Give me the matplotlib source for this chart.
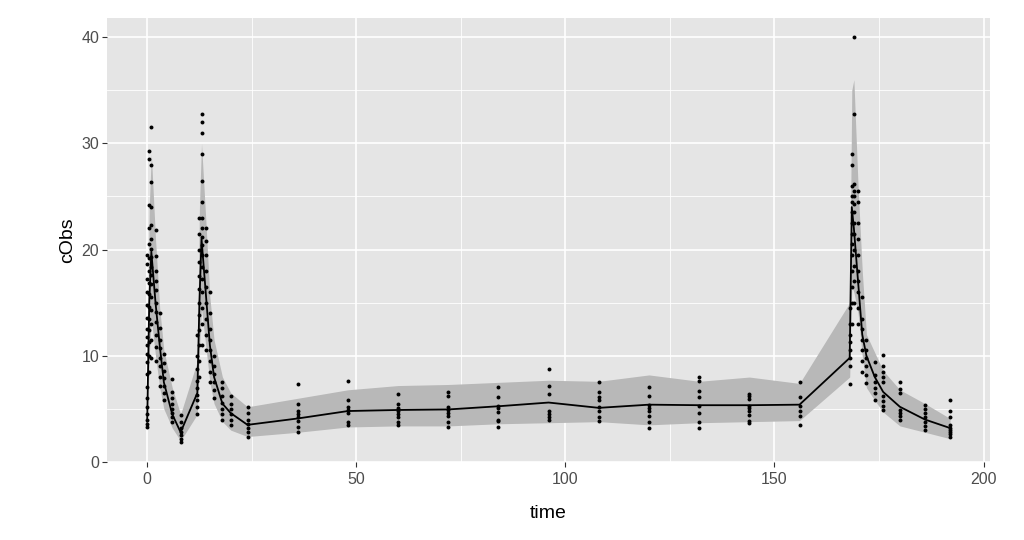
import numpy as np
import matplotlib
matplotlib.use('Agg')
import matplotlib.pyplot as plt

plt.rcParams['font.family'] = ['Liberation Sans', 'DejaVu Sans']

# observed concentrations per sampling time
obs = {
    0: [3.3, 3.6, 4.0, 4.5, 5.2, 6.0, 7.1, 8.3, 9.4, 10.2, 11.0, 11.8, 12.5, 13.6, 14.8, 16.0, 17.2, 18.6, 19.5],
    0.5: [8.5, 10.0, 11.3, 12.4, 13.5, 14.6, 15.8, 16.9, 18.0, 19.2, 20.5, 22.0, 24.2, 28.5, 29.3],
    1: [9.8, 11.5, 13.0, 14.3, 15.5, 16.8, 17.6, 18.4, 19.3, 20.1, 21.0, 22.3, 24.0, 26.4, 28.0, 31.5],
    2: [9.5, 10.8, 12.0, 13.2, 14.1, 15.0, 16.2, 17.0, 18.0, 19.4, 21.8],
    3: [7.2, 8.0, 9.0, 9.8, 10.7, 11.5, 12.6, 14.0],
    4: [5.8, 6.5, 7.2, 7.9, 8.6, 9.3, 10.2],
    6: [3.8, 4.2, 4.6, 5.0, 5.5, 6.0, 6.6, 7.8],
    8: [1.9, 2.2, 2.5, 2.8, 3.2, 3.8, 4.4],
    12: [4.5, 5.2, 5.8, 6.3, 7.0, 7.6, 8.8, 10.0, 12.0],
    12.5: [8.0, 9.5, 11.0, 12.4, 13.8, 15.0, 16.3, 17.5, 18.8, 20.0, 21.5, 23.0],
    13: [11.0, 13.0, 14.5, 16.0, 17.2, 18.4, 19.5, 20.4, 21.2, 22.0, 23.0, 24.5, 26.5, 29.0, 31.0, 32.0, 32.8],
    14: [10.5, 12.0, 13.5, 15.0, 16.5, 18.0, 19.5, 20.8, 22.0],
    15: [7.5, 8.5, 9.5, 10.5, 11.5, 12.5, 14.0, 16.0],
    16: [6.0, 6.8, 7.5, 8.3, 9.0, 10.0],
    18: [4.0, 4.5, 5.0, 5.6, 6.2, 7.0, 7.5],
    20: [3.5, 4.0, 4.5, 5.0, 5.5, 6.2],
    24: [2.4, 2.8, 3.2, 3.6, 4.0, 4.6, 5.2],
    36: [2.8, 3.3, 3.9, 4.2, 4.5, 4.8, 5.5, 7.3],
    48: [3.5, 3.8, 4.6, 4.9, 5.2, 5.8, 7.6],
    60: [3.5, 3.8, 4.2, 4.5, 4.8, 5.1, 5.5, 6.4],
    72: [3.3, 3.8, 4.3, 4.6, 4.9, 5.2, 6.2, 6.6],
    84: [3.3, 3.9, 4.0, 4.7, 5.1, 5.3, 6.1, 7.1],
    96: [4.0, 4.2, 4.5, 4.8, 6.4, 7.2, 8.8],
    108: [3.9, 4.2, 4.8, 5.2, 5.8, 6.1, 6.6, 7.5],
    120: [3.2, 3.8, 4.3, 4.8, 5.1, 5.4, 6.2, 7.1],
    132: [3.2, 3.8, 4.6, 5.3, 6.1, 6.7, 7.6, 8.0],
    144: [3.7, 3.9, 4.4, 4.8, 5.1, 5.3, 5.9, 6.2, 6.4],
    156: [3.5, 4.3, 4.8, 5.3, 6.1, 7.5],
    168: [7.3, 9.0, 9.8, 10.5, 11.3, 12.0, 13.0, 14.5],
    168.5: [13, 15, 16.5, 18, 19.5, 20.5, 21.5, 22.5, 23.5, 24.5, 25.0, 26.0, 28.0, 29.0],
    169: [15, 17, 18.5, 20, 21.5, 22.5, 23.5, 24.3, 25.0, 25.5, 26.2, 32.8, 40.0],
    170: [13, 14.5, 16, 17, 18, 19.5, 21, 22.5, 24.5, 25.5],
    171: [8.5, 9.5, 10.5, 11.5, 12.5, 13.5, 15.5],
    172: [7.4, 8.2, 9.0, 9.8, 10.5, 11.5],
    174: [5.8, 6.5, 7.0, 7.5, 8.2, 9.4],
    176: [4.9, 5.3, 5.7, 6.2, 7.5, 8.0, 8.5, 9.0, 10.1],
    180: [4.0, 4.3, 4.6, 4.9, 6.5, 6.9, 7.5],
    186: [3.0, 3.4, 3.8, 4.2, 4.6, 5.0, 5.4],
    192: [2.4, 2.6, 2.8, 3.0, 3.2, 3.5, 4.2, 4.8, 5.8],
}

# summary: median and interval
times = [0, 0.5, 1, 2, 3, 4, 6, 8, 12, 12.5, 13, 14, 15, 16, 18, 20, 24,
         36, 48, 60, 72, 84, 96, 108, 120, 132, 144, 156,
         168, 168.5, 169, 170, 171, 172, 174, 176, 180, 186, 192]
med = [3.8, 15, 19.8, 15, 11, 7.5, 4.5, 2.8, 6.5, 15, 21, 16, 11, 8, 5.5, 4.6, 3.5,
       4.1, 4.8, 4.9, 4.95, 5.25, 5.6, 5.1, 5.4, 5.35, 5.35, 5.4,
       9.8, 24, 22, 17, 12, 10, 8, 6.6, 5.2, 4.0, 3.2]
lo = [3.0, 10, 13.5, 10, 7, 5, 3.2, 2.0, 4.5, 10.5, 14.5, 11, 7.5, 5.5, 3.8, 3.0, 2.4,
      2.8, 3.3, 3.4, 3.4, 3.6, 3.7, 3.8, 3.5, 3.7, 3.8, 3.9,
      8.0, 16.5, 16, 14, 10, 7, 5.8, 4.7, 3.4, 2.8, 2.2]
hi = [7, 24, 29, 21, 14.5, 10.5, 7, 4.5, 9.5, 24, 30, 23, 15.5, 11.5, 8, 6.5, 5.2,
      6.0, 6.8, 7.2, 7.3, 7.5, 7.7, 7.6, 8.2, 7.6, 8.0, 7.4,
      15.0, 35, 36, 26, 18, 12, 10.3, 8.6, 6.8, 5.5, 4.1]

fig = plt.figure(figsize=(10.24, 5.4), dpi=100)
ax = fig.add_axes([0.1045, 0.1444, 0.8625, 0.8222])
ax.set_facecolor('#E5E5E5')

ax.fill_between(times, lo, hi, color='#B8B8B8', lw=0, zorder=2)
ax.plot(times, med, color='black', lw=1.3, zorder=3)
for t, vals in obs.items():
    ax.scatter([t] * len(vals), vals, s=8, color='black', lw=0, zorder=4, clip_on=False)

ax.set_xlim(-9.6, 201.6)
ax.set_ylim(0, 41.8)
ax.set_xticks([0, 50, 100, 150, 200])
ax.set_yticks([0, 10, 20, 30, 40])
ax.set_xticks([25, 75, 125, 175], minor=True)
ax.set_yticks([5, 15, 25, 35], minor=True)
ax.grid(which='major', color='white', lw=1.2, zorder=0)
ax.grid(which='minor', color='white', lw=0.6, zorder=0)
ax.set_axisbelow(True)
for s in ax.spines.values():
    s.set_visible(False)
ax.tick_params(which='major', length=3.5, width=0.8, color='#333333',
               labelcolor='#4D4D4D', labelsize=11.5, pad=2)
ax.tick_params(axis='x', which='major', pad=4)
ax.tick_params(which='minor', length=0)
ax.set_xlabel('time', fontsize=14, labelpad=13)
ax.set_ylabel('cObs', fontsize=14, labelpad=4)

plt.savefig('out.png', dpi=100)
